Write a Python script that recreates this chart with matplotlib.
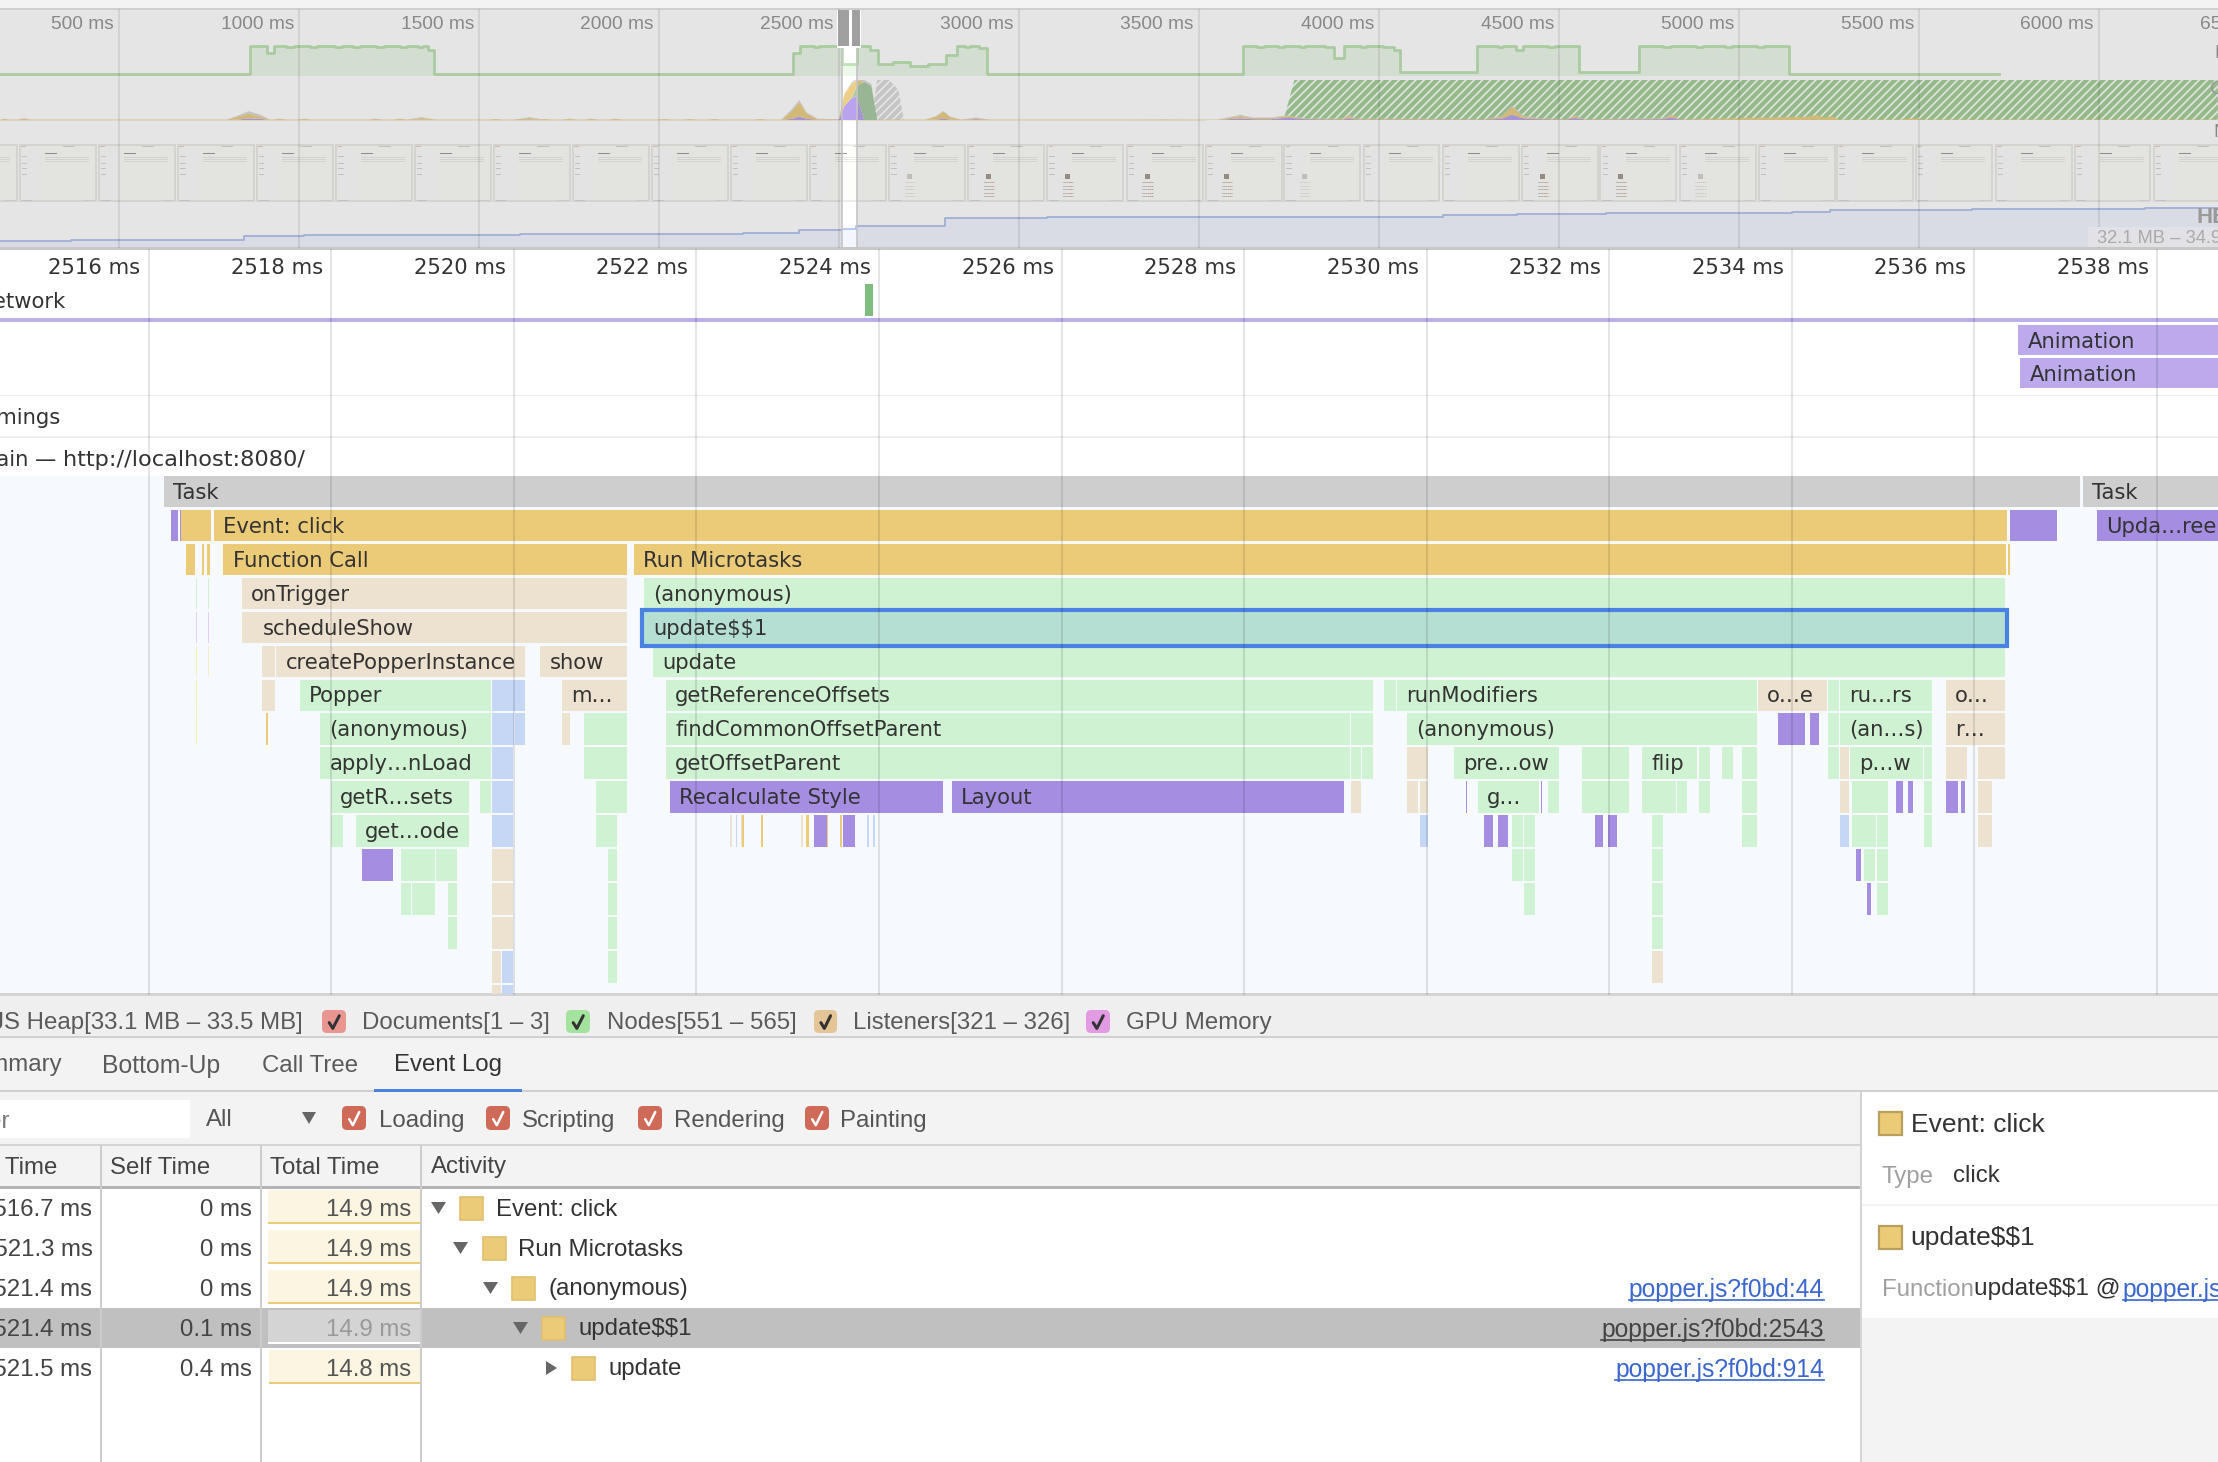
import matplotlib
matplotlib.use('Agg')
import matplotlib.pyplot as plt
from matplotlib.patches import Rectangle, FancyBboxPatch, Polygon

W, H = 2218, 1462
UI_FONT = 'Liberation Sans'
FLAME_FONT = 'DejaVu Sans'

# ---- overview data (ms) ----
over_ticks = [500, 1000, 1500, 2000, 2500, 3000, 3500, 4000, 4500, 5000, 5500, 6000, 6500]
window = [2507, 2549]

fps_t = [170, 863, 912, 930, 963, 985, 1030, 1050, 1100, 1120, 1150, 1170, 1215, 1235, 1280, 1300,
         1330, 1345, 1358, 1374, 2372, 2393, 2430, 2445, 2507, 2551, 2586, 2608, 2651, 2696, 2747,
         2798, 2829, 2850, 2865, 2890, 2910, 3623, 3660, 3680, 3720, 3735, 3780, 3795, 3850, 3875,
         3902, 3950, 3965, 4010, 4042, 4057, 4271, 4330, 4345, 4380, 4400, 4470, 4490, 4556, 4721,
         4790, 4810, 4880, 4900, 4960, 4980, 5050, 5070, 5140, 5722]
fps_v = [5, 60, 46, 60, 58, 60, 58, 60, 58, 60, 58, 60, 58, 60, 58, 60,
         58, 60, 52, 5, 47, 60, 58, 60, 24, 60, 53, 24, 28, 20, 24,
         42, 60, 58, 60, 56, 5, 60, 58, 60, 58, 60, 58, 60, 58, 36,
         60, 58, 60, 58, 53, 8, 60, 58, 60, 52, 60, 58, 60, 9, 60,
         58, 60, 58, 60, 58, 60, 58, 60, 5, 5]

cpu_t = [170, 800, 830, 860, 890, 920, 1300, 1340, 1380, 1600, 1640, 1680, 2340, 2370, 2390,
         2410, 2440, 2500, 2515, 2535, 2550, 2570, 2590, 2606, 2625, 2740, 2770, 2790, 2810, 2840,
         2880, 2920, 3550, 3615, 3650, 3700, 3745, 3790, 3900, 3915, 3935, 4290, 4340, 4370, 4400,
         4440, 4520, 4545, 4570, 4790, 4812, 4835, 5190, 5215, 5240, 5255, 5280, 5450, 5480, 5510, 6330]
cpu_rendering = [0, 0, 1, 4, 3, 0, 0, 1, 0, 0, 1, 0, 0, 3, 9,
                 3, 1, 1, 35, 55, 60, 0, 0, 0, 0, 0, 1, 3, 1, 0,
                 2, 0, 0, 4, 2, 2, 6, 2, 1, 4, 1, 1, 3, 13, 4,
                 2, 1, 5, 1, 2, 6, 1, 0, 1, 0, 0, 0, 0, 0, 0, 0]
cpu_painting = [0, 0, 0, 0, 0, 0, 0, 0, 0, 0, 0, 0, 0, 0, 0,
                0, 0, 0, 0, 0, 25, 95, 85, 0, 0, 0, 0, 0, 0, 0,
                0, 0, 0, 0, 0, 0, 0, 0, 0, 0, 0, 0, 0, 0, 0,
                0, 0, 0, 0, 0, 0, 0, 0, 0, 0, 0, 0, 0, 0, 0, 0]
cpu_scripting = [1, 1, 8, 12, 6, 1, 1, 4, 1, 1, 4, 1, 1, 20, 36,
                 14, 2, 1, 30, 35, 15, 0, 0, 0, 1, 1, 8, 18, 6, 1,
                 3, 1, 1, 6, 3, 3, 4, 2, 2, 6, 2, 1, 5, 20, 5,
                 2, 1, 5, 1, 2, 6, 1, 8, 12, 5, 10, 1, 1, 4, 1, 1]
cpu_other = [0, 0, 2, 6, 5, 0, 0, 2, 0, 0, 2, 0, 0, 5, 5,
             2, 0, 0, 0, 5, 5, 5, 5, 0, 0, 0, 1, 2, 1, 0,
             1, 0, 0, 3, 1, 1, 2, 1, 1, 3, 1, 0, 2, 3, 2,
             1, 0, 2, 0, 1, 3, 0, 0, 0, 0, 0, 0, 0, 0, 0, 0]
ripple_t = [170, 180, 195, 215, 235, 255, 925, 945, 965, 995, 1014, 1035, 1190, 1210, 1230, 1260, 1279, 1300,
            1524, 1544, 1564, 1593, 1613, 1633, 1662, 1682, 1702, 1731, 1751, 1771, 1790, 1810, 1830, 1858, 1878,
            1898, 1996, 2016, 2036, 2065, 2085, 2105, 2133, 2153, 2173, 2261, 2281, 2301, 3300, 3400, 3500, 3520]
ripple_v = [1, 5, 1, 1, 6, 1, 1, 5, 1, 1, 5, 1, 1, 5, 1, 1, 5, 1,
            1, 4, 1, 1, 4, 1, 1, 4, 1, 1, 5, 1, 1, 5, 1, 1, 5,
            1, 1, 4, 1, 1, 4, 1, 1, 4, 1, 1, 4, 1, 1, 2, 1, 1]
gpu_t = [3735, 3765, 6330]
gpu_v = [0, 100, 100]
gpu2_t = [2590, 2606, 2640, 2665, 2680]
gpu2_v = [0, 100, 100, 75, 0]

film_t = [5, 225, 444, 664, 883, 1103, 1322, 1541, 1761, 1980, 2200, 2419, 2639, 2858, 3078, 3299,
          3519, 3737, 3957, 4177, 4397, 4615, 4835, 5055, 5273, 5491, 5713, 5932, 6152]
film_kind = [0, 0, 0, 0, 0, 0, 0, 0, 0, 0, 0, 0, 1, 2, 2, 2, 2, 1, 0, 0, 2, 2, 1, 0, 0, 0, 0, 0, 0]

heap_t = [170, 366, 847, 1014, 1613, 2232, 2390, 2507, 2547, 2794, 3079, 3698, 4179, 4384, 4631, 5146, 5254,
          5647, 6128, 6330]
heap_mb = [32.50, 32.57, 32.85, 32.92, 33.0, 33.06, 33.28, 33.40, 33.6, 34.12, 34.19, 34.24, 34.33, 34.40,
           34.47, 34.54, 34.69, 34.76, 34.83, 34.83]

# ---- flame chart data: (depth, start ms, end ms) ----
flame_ticks = list(range(2516, 2540, 2))
span_task = [(0, 2516.17, 2537.16), (0, 2537.19, 2541.5)]
span_yellow = [(1, 2516.36, 2516.68), (1, 2516.72, 2536.36), (2, 2516.41, 2516.51), (2, 2516.59, 2516.61),
               (2, 2516.64, 2516.67), (2, 2516.82, 2521.24), (2, 2521.32, 2536.35), (2, 2536.37, 2536.39),
               (7, 2517.29, 2517.305), (10, 2522.50, 2522.52), (10, 2522.71, 2522.73),
               (10, 2523.20, 2523.23), (10, 2523.41, 2523.44), (10, 2523.57, 2523.6)]
span_tan = [(4, 2517.02, 2517.15), (3, 2517.02, 2521.24), (4, 2517.15, 2521.24), (5, 2517.24, 2517.38),
            (5, 2517.40, 2520.12), (5, 2520.29, 2521.24), (6, 2517.24, 2517.38), (6, 2520.53, 2521.24),
            (6, 2533.63, 2534.39), (6, 2535.69, 2536.34), (7, 2520.53, 2520.62), (7, 2535.69, 2536.34),
            (8, 2529.79, 2530.02), (8, 2534.53, 2534.63), (8, 2535.69, 2535.92), (8, 2536.04, 2536.34),
            (9, 2529.17, 2529.28), (9, 2529.79, 2529.91), (9, 2529.93, 2530.02), (9, 2534.53, 2534.63),
            (9, 2536.04, 2536.19), (10, 2536.04, 2536.19), (11, 2519.76, 2519.99), (12, 2519.76, 2519.99),
            (13, 2519.76, 2519.99), (14, 2519.76, 2519.86), (15, 2519.76, 2519.86), (14, 2532.47, 2532.59),
            (10, 2522.37, 2522.39), (10, 2522.49, 2522.50), (10, 2523.15, 2523.17), (10, 2523.37, 2523.39)]
span_green = [(3, 2521.43, 2536.34), (3, 2516.52, 2516.53), (3, 2516.65, 2516.66),
              (5, 2521.53, 2536.34), (6, 2517.66, 2519.75), (6, 2521.67, 2529.41), (6, 2529.53, 2529.66),
              (6, 2529.67, 2533.62), (6, 2534.40, 2534.52), (6, 2534.53, 2535.54),
              (7, 2517.88, 2519.75), (7, 2520.77, 2521.24), (7, 2521.67, 2529.16), (7, 2529.17, 2529.41),
              (7, 2529.79, 2533.62), (7, 2534.40, 2534.52), (7, 2534.53, 2535.54),
              (8, 2517.88, 2519.75), (8, 2520.77, 2521.24), (8, 2521.67, 2529.16), (8, 2529.17, 2529.28),
              (8, 2529.29, 2529.41), (8, 2530.30, 2531.45), (8, 2531.70, 2532.22), (8, 2532.36, 2532.96),
              (8, 2532.98, 2533.10), (8, 2533.23, 2533.36), (8, 2533.45, 2533.62), (8, 2534.40, 2534.52),
              (8, 2534.64, 2535.44), (8, 2535.45, 2535.54),
              (9, 2518.0, 2519.51), (9, 2519.63, 2519.75), (9, 2520.90, 2521.24), (9, 2530.56, 2531.23),
              (9, 2531.33, 2531.45), (9, 2531.70, 2531.97), (9, 2531.98, 2532.22), (9, 2532.36, 2532.73),
              (9, 2532.74, 2532.85), (9, 2532.98, 2533.10), (9, 2533.45, 2533.62), (9, 2534.66, 2535.05),
              (9, 2535.45, 2535.54),
              (10, 2518.0, 2518.13), (10, 2518.27, 2519.51), (10, 2520.90, 2521.13), (10, 2530.94, 2531.06),
              (10, 2531.07, 2531.19), (10, 2532.47, 2532.59), (10, 2533.45, 2533.62), (10, 2534.66, 2534.92),
              (10, 2534.93, 2535.05), (10, 2535.45, 2535.54),
              (11, 2518.77, 2519.14), (11, 2519.15, 2519.38), (11, 2521.03, 2521.13), (11, 2530.94, 2531.06),
              (11, 2531.07, 2531.19), (11, 2532.47, 2532.59), (11, 2534.79, 2534.91), (11, 2534.93, 2535.05),
              (12, 2518.77, 2518.87), (12, 2518.89, 2519.14), (12, 2519.28, 2519.38), (12, 2521.03, 2521.13),
              (12, 2531.07, 2531.19), (12, 2532.47, 2532.59), (12, 2534.93, 2535.05),
              (13, 2519.28, 2519.38), (13, 2521.03, 2521.13), (13, 2532.47, 2532.59), (14, 2521.03, 2521.13)]
span_purple = [(1, 2516.24, 2516.32), (1, 2516.34, 2516.36), (1, 2536.39, 2536.91), (1, 2537.34, 2541.5),
               (8, 2520.60, 2520.61), (9, 2521.71, 2524.70), (9, 2524.80, 2529.09), (9, 2530.43, 2530.44),
               (9, 2531.25, 2531.26), (9, 2535.14, 2535.22), (9, 2535.27, 2535.33), (9, 2535.69, 2535.82),
               (9, 2535.85, 2535.90), (7, 2533.85, 2534.14), (7, 2534.20, 2534.30),
               (10, 2523.29, 2523.43), (10, 2523.61, 2523.74), (10, 2530.63, 2530.73), (10, 2530.78, 2530.89),
               (10, 2531.84, 2531.93), (10, 2531.99, 2532.09), (11, 2518.34, 2518.68), (11, 2534.70, 2534.76),
               (12, 2534.82, 2534.87)]
span_blue = [(6, 2519.76, 2520.12), (7, 2519.76, 2520.0), (7, 2520.01, 2520.12), (8, 2519.76, 2519.99),
             (9, 2519.76, 2519.99), (10, 2519.76, 2519.99), (14, 2519.87, 2519.99), (15, 2519.87, 2519.99),
             (10, 2529.93, 2530.02), (10, 2534.53, 2534.63), (10, 2522.43, 2522.45), (10, 2523.87, 2523.89),
             (10, 2523.93, 2523.96)]
span_pale_pink = [(4, 2516.52, 2516.53), (4, 2516.65, 2516.66)]
span_pale_yellow = [(5, 2516.52, 2516.53), (5, 2516.65, 2516.66), (6, 2516.52, 2516.53), (7, 2516.52, 2516.53)]
selected_span = (4, 2521.41, 2536.36)
flame_labels = [(0, 2516.17, 'Task'), (0, 2537.19, 'Task'), (1, 2516.72, 'Event: click'), (1, 2537.34, 'Upda…ree'),
                (2, 2516.82, 'Function Call'), (2, 2521.32, 'Run Microtasks'), (3, 2517.02, 'onTrigger'),
                (3, 2521.43, '(anonymous)'), (4, 2517.15, 'scheduleShow'), (4, 2521.43, 'update$$1'),
                (5, 2517.40, 'createPopperInstance'), (5, 2520.29, 'show'), (5, 2521.53, 'update'),
                (6, 2517.66, 'Popper'), (6, 2520.53, 'm…'), (6, 2521.67, 'getReferenceOffsets'),
                (6, 2529.67, 'runModifiers'), (6, 2533.63, 'o…e'), (6, 2534.53, 'ru…rs'), (6, 2535.69, 'o…'),
                (7, 2517.88, '(anonymous)'), (7, 2521.67, 'findCommonOffsetParent'), (7, 2529.79, '(anonymous)'),
                (7, 2534.53, '(an…s)'), (7, 2535.69, 'r…'), (8, 2517.88, 'apply…nLoad'),
                (8, 2521.67, 'getOffsetParent'), (8, 2530.30, 'pre…ow'), (8, 2532.36, 'flip'), (8, 2534.64, 'p…w'),
                (9, 2518.0, 'getR…sets'), (9, 2521.71, 'Recalculate Style'), (9, 2524.80, 'Layout'), (9, 2530.56, 'g…'),
                (10, 2518.27, 'get…ode')]
anim_rows = [(0, 2536.48, 2541.5), (1, 2536.50, 2541.5)]
network_span = (2523.85, 2523.93)

# ---- event log table ----
log_start = ['2516.7 ms', '2521.3 ms', '2521.4 ms', '2521.4 ms', '2521.5 ms']
log_self = ['0 ms', '0 ms', '0 ms', '0.1 ms', '0.4 ms']
log_total = [14.9, 14.9, 14.9, 14.9, 14.8]
log_names = ['Event: click', 'Run Microtasks', '(anonymous)', 'update$$1', 'update']
log_links = ['', '', 'popper.js?f0bd:44', 'popper.js?f0bd:2543', 'popper.js?f0bd:914']
tab_names = ['Summary', 'Bottom-Up', 'Call Tree', 'Event Log']
filter_names = ['Loading', 'Scripting', 'Rendering', 'Painting']
legend_names = ['Documents[1 – 3]', 'Nodes[551 – 565]', 'Listeners[321 – 326]', 'GPU Memory']

YELLOW, TAN, GREEN = '#ebcb77', '#ede1cf', '#cff2d2'
PURPLE, BLUE, GREY = '#a58de2', '#c6d6f5', '#cecece'
ACCENT = '#4a82e3'
LINK = '#3b67cf'

plt.rcParams['hatch.linewidth'] = 3.0
fig = plt.figure(figsize=(W / 100, H / 100), dpi=100, facecolor='white')


def panel(x0, y0, x1, y1, z=1):
    ax = fig.add_axes([x0 / W, 1 - y1 / H, (x1 - x0) / W, (y1 - y0) / H], zorder=z)
    ax.axis('off')
    ax.patch.set_alpha(0)
    return ax


def ms_over(ms):
    return 0.36 * ms - 61


ui = panel(0, 0, W, H, z=0)
ui.set_xlim(0, W)
ui.set_ylim(H, 0)
top = panel(0, 0, W, H, z=5)
top.set_xlim(0, W)
top.set_ylim(H, 0)
OVER_XLIM = ((0 + 61) / 0.36, (W + 61) / 0.36)


def box(ax, x0, y0, x1, y1, color, z=1):
    ax.add_patch(Rectangle((x0, y0), x1 - x0, y1 - y0, facecolor=color, edgecolor='none', zorder=z))


def label(ax, x, y, s, size=17.3, color='#444444', ha='left', font=UI_FONT, z=6, **kw):
    return ax.text(x, y + 1.5, s, fontsize=size, color=color, ha=ha, va='center', family=font, zorder=z,
                   parse_math=False, **kw)


def checkbox(ax, x0, y0, x1, y1, color, tick='#333333', lw=2.2):
    ax.add_patch(FancyBboxPatch((x0 + 4, y0 + 4), x1 - x0 - 8, y1 - y0 - 8, boxstyle='round,pad=4,rounding_size=5',
                                facecolor=color, edgecolor='none', zorder=3))
    w, h = x1 - x0, y1 - y0
    ax.plot([x0 + w * .3, x0 + w * .45, x0 + w * .72], [y0 + h * .55, y0 + h * .8, y0 + h * .25],
            color=tick, lw=lw, zorder=4, solid_capstyle='round')


# window chrome
box(ui, 0, 0, W, 8, '#f3f3f3')
box(ui, 0, 8, W, 10, '#cfcfcf')
box(ui, 0, 10, W, 247, 'white')
box(ui, 0, 247, W, 250, '#c8c8c8')
box(ui, 0, 476, W, 994, '#f6f9fe')

# ---- overview tracks, all on the same ms scale ----
ax_fps = panel(0, 30, W, 76)
ax_fps.set_xlim(*OVER_XLIM)
ax_fps.set_ylim(0, 60 * 46 / 30)
ax_fps.fill_between(fps_t, fps_v, step='post', color='#edf7ea', lw=0)
ax_fps.step(fps_t, fps_v, where='post', color='#bde3b2', lw=2.0)

ax_cpu = panel(0, 80, W, 120)
ax_cpu.set_xlim(*OVER_XLIM)
ax_cpu.set_ylim(0, 100)
ax_cpu.fill_between(gpu_t, gpu_v, facecolor='#fbfdfa', hatch='////', edgecolor='#a4d098', lw=0)
ax_cpu.fill_between(gpu2_t, gpu2_v, facecolor='#ffffff', hatch='////', edgecolor='#dcdcdc', lw=0)
ax_cpu.fill_between(ripple_t, ripple_v, color='#ecd9a8', lw=0)
ax_cpu.stackplot(cpu_t, cpu_rendering, cpu_painting, cpu_scripting, cpu_other,
                 colors=['#b9a3ee', '#aacba4', '#eccf86', '#d9d9d9'], lw=0)

ax_net = panel(0, 132, W, 139)
ax_net.set_xlim(*OVER_XLIM)
ax_net.set_ylim(0, 1)
ax_net.barh(0.5, 2, left=2527, height=1, color='#b3c6ee')

ax_film = panel(0, 144, W, 202)
ax_film.set_xlim(*OVER_XLIM)
ax_film.set_ylim(1, 0)
FW = 211
for t, kind in zip(film_t, film_kind):
    ax_film.add_patch(Rectangle((t, 0.01), FW, 0.98, facecolor='#fdfdfa', edgecolor='#ecece8', lw=1.4))
    ax_film.add_patch(Rectangle((t + 5, 0.1), 50, 0.85, facecolor='#fcfdfc', edgecolor='none'))
    ax_film.plot([t + 4, t + 14], [0.04, 0.04], color='#e4c4bc', lw=0.6)
    ax_film.plot([t + 120, t + 150], [0.04, 0.04], color='#d0d0d0', lw=0.6)
    ax_film.plot([t + 70, t + 100], [0.15, 0.15], color='#999999', lw=0.7)
    for yy in [0.22, 0.25, 0.29]:
        ax_film.plot([t + 70, t + 190], [yy, yy], color='#e2e2e2', lw=0.5)
    for yy in [0.21, 0.32, 0.41, 0.51]:
        ax_film.plot([t + 6, t + 18], [yy, yy], color='#c4c4c4', lw=0.5)
    ax_film.plot([t + 5, t + 30], [0.96, 0.96], color='#cfcfcf', lw=0.5)
    ax_film.plot([t + 175, t + 205], [0.96, 0.96], color='#dddddd', lw=0.5)
    if kind:
        c = '#a59c8c' if kind == 2 else '#d8d4cc'
        ax_film.add_patch(Rectangle((t + 50, 0.52), 14, 0.09, facecolor=c, edgecolor='none'))
        for yy in [0.66, 0.72, 0.78, 0.84, 0.9]:
            ax_film.plot([t + 44, t + 72], [yy, yy], color=c, lw=0.7, ls=(0, (1, 1)))
            if kind == 2:
                ax_film.plot([t + 62, t + 72], [yy, yy], color='#e8b0a4', lw=0.7, ls=(0, (1, 1)))

ax_heap = panel(0, 135, W, 247)
ax_heap.set_xlim(*OVER_XLIM)
ax_heap.set_ylim(32.1, 32.1 + 112 / 14.18)
ax_heap.fill_between(heap_t, heap_mb, 32.1, step='post', color='#f3f6ff', lw=0)
ax_heap.step(heap_t, heap_mb, where='post', color='#b2c5ee', lw=1.3)

# dim everything outside the selected window
x_a, x_b = ms_over(window[0]), ms_over(window[1])
top.add_patch(Rectangle((0, 10), x_a, 237, facecolor='black', alpha=0.1, edgecolor='none', zorder=1))
top.add_patch(Rectangle((x_b, 10), W - x_b, 237, facecolor='black', alpha=0.1, edgecolor='none', zorder=1))
for tick in over_ticks:
    x = ms_over(tick)
    top.plot([x, x], [10, 247], color='black', alpha=0.08, lw=1.5, zorder=2)
    label(top, x - 5, 23, '%d ms' % tick, size=13.8, color='#888888', ha='right')
top.plot([x_a, x_a], [47, 247], color='#c4c4c4', lw=1.2, zorder=3)
top.plot([x_b, x_b], [47, 247], color='#c4c4c4', lw=1.2, zorder=3)
box(top, 837, 10, 861, 48, 'white', z=3)
box(top, 838, 10, 849, 46, '#a0a0a0', z=4)
box(top, 852, 10, 860, 46, '#a0a0a0', z=4)

label(top, 2214, 52, 'F', size=13.8, color='#888888')
label(top, 2210, 88, 'C', size=13.8, color='#999999')
label(top, 2213, 131, 'N', size=13.8, color='#888888')
label(top, 2197, 216, 'HE', size=16, color='#999999', weight='bold')
box(top, 2088, 227, W, 247, '#e2e2e6', z=3)
label(top, 2097, 237, '32.1 MB – 34.9 MB', size=13.2, color='#aaaaaa')

# ---- flame chart ruler and tracks ----
FLAME_XLIM = (2516 + (0 - 148.6) / 91.29, 2516 + (W - 148.6) / 91.29)
ROW = 33.95
ax_flame = panel(0, 475.8, W, 994)
ax_flame.set_xlim(*FLAME_XLIM)
ax_flame.set_ylim((994 - 475.8) / ROW, 0)


def draw_spans(spans, color):
    for depth, start, end in spans:
        ax_flame.barh(depth, end - start, left=start, height=0.93, align='edge', color=color, lw=0)


draw_spans(span_task, GREY)
draw_spans(span_green, GREEN)
draw_spans(span_tan, TAN)
draw_spans(span_yellow, YELLOW)
draw_spans(span_purple, PURPLE)
draw_spans(span_blue, BLUE)
draw_spans(span_pale_pink, '#e6cdf2')
draw_spans(span_pale_yellow, '#f5ecc8')
depth, start, end = selected_span
ax_flame.barh(depth + 0.495, end - start, left=start, height=1.06, facecolor='#b5dfd3', edgecolor=ACCENT, lw=3.0)
for depth, start, text in flame_labels:
    ax_flame.text(start + 0.1, depth + 0.5, text, fontsize=15.2, color='#333333', family=FLAME_FONT,
                  ha='left', va='center', parse_math=False, clip_on=True)

ax_anim = panel(0, 325, W, 391)
ax_anim.set_xlim(*FLAME_XLIM)
ax_anim.set_ylim(2, 0)
for row, start, end in anim_rows:
    ax_anim.barh(row, end - start, left=start, height=0.92, align='edge', color='#bcaaec', lw=0)
    ax_anim.text(start + 0.107, row + 0.5 + row * 0.03, 'Animation', fontsize=15.2, color='#333333',
                 family=FLAME_FONT, ha='left', va='center', clip_on=True)

ax_net2 = panel(0, 284, W, 316)
ax_net2.set_xlim(*FLAME_XLIM)
ax_net2.set_ylim(0, 1)
ax_net2.barh(0.5, network_span[1] - network_span[0], left=network_span[0], height=1, color='#7fbd80', lw=0)

box(ui, 0, 318, W, 321.5, '#bdaeee')
box(ui, 0, 394.5, W, 396, '#eeeeee')
box(ui, 0, 436, W, 437.5, '#eeeeee')
label(ui, -22, 300.4, 'Network', size=15.2, color='#333333', font=FLAME_FONT)
label(ui, -22, 416.4, 'Timings', size=15.2, color='#333333', font=FLAME_FONT)
label(ui, -22, 458, 'Main —', size=15.2, color='#333333', font=FLAME_FONT)
label(ui, 63, 458, 'http://localhost:8080/', size=16.2, color='#333333', font=FLAME_FONT)

for tick in flame_ticks:
    x = 148.6 + (tick - 2516) * 91.29
    top.plot([x, x], [250, 994], color='black', alpha=0.1, lw=1.5, zorder=2)
    label(top, x - 8, 266.4, '%d ms' % tick, size=15.2, color='#333333', ha='right', font=FLAME_FONT)

# ---- bottom panes ----
box(ui, 0, 994, W, 1036, '#efefef')
box(ui, 0, 993, W, 996, '#d4d4d4')
box(ui, 0, 1036, W, 1038, '#d0d0d0')
box(ui, 0, 1038, W, 1090, '#f3f3f3')
box(ui, 0, 1090, W, 1092, '#d0d0d0')
box(ui, 0, 1092, W, 1144, '#f3f3f3')
box(ui, 0, 1144, W, 1146, '#d4d4d4')
box(ui, 0, 1146, W, 1186, '#f3f3f3')
box(ui, 0, 1186, W, 1188.5, '#b4b4b4')
box(ui, 0, 1188.5, W, H, 'white')

# memory legend
label(ui, 303, 1022, 'JS Heap[33.1 MB – 33.5 MB]', color='#5a5a5a', ha='right')
legend_boxes = [(322, 346), (566, 590), (814, 837), (1086, 1110)]
legend_colors = ['#e8968f', '#a4e39d', '#e3c596', '#e29be2']
legend_x = [362, 607, 853, 1126]
for (x0, x1), c, tx, name in zip(legend_boxes, legend_colors, legend_x, legend_names):
    checkbox(ui, x0, 1010, x1, 1033, c)
    label(ui, tx, 1022, name, color='#5a5a5a')

# tabs
for tx, name, c in zip([-40, 102, 261.5, 393.5], tab_names, ['#5a5a5a', '#5a5a5a', '#5a5a5a', '#333333']):
    label(ui, tx, 1064, name, color=c, size=17.8 if name == 'Bottom-Up' else 17.3)
box(ui, 374, 1089, 522, 1092, ACCENT, z=2)

# filter bar
box(ui, 0, 1100, 190, 1138, 'white', z=2)
label(ui, -44, 1120, 'Filter', color='#777777')
label(ui, 206, 1119, 'All', color='#555555')
ui.add_patch(Polygon([(302, 1112), (316, 1112), (309, 1124)], facecolor='#666666', edgecolor='none', zorder=3))
for x0, tx, name in zip([342, 486, 638, 805], [379, 522, 673.5, 840.5], filter_names):
    checkbox(ui, x0, 1106, x0 + 24, 1130, '#cf6a58', tick='white', lw=1.8)
    label(ui, tx, 1119, name, color='#555555')

# table
box(ui, 0, 1308, 1861, 1348, '#c0c0c0', z=1.5)
for x in [100.8, 260.8, 421]:
    box(ui, x - 1, 1146, x + 1, H, '#cccccc', z=2)
for x, name in zip([-52, 110, 270, 430.5], ['Start Time', 'Self Time', 'Total Time', 'Activity']):
    label(ui, x, 1166, name, color='#444444')

arrow_x = [431, 453, 483, 513, 546]
square_x = [460, 483, 512, 542, 572]
text_x = [496, 518, 548.5, 578, 608]
for i in range(5):
    y = 1208 + i * 40
    sel = i == 3
    label(ui, 92.5, y, log_start[i], ha='right', color='#444444')
    label(ui, 252, y, log_self[i], ha='right', color='#444444')
    width = log_total[i] / 14.9 * 151.6
    box(ui, 419.6 - width, y - 18, 419.6, y + 14, '#d4d4d4' if sel else '#fbf5e2', z=2)
    box(ui, 419.6 - width, y + 14, 419.6, y + 16, 'white' if sel else YELLOW, z=2)
    label(ui, 411, y, '%.1f ms' % log_total[i], ha='right', color='#999999' if sel else '#555555')
    ax_ = arrow_x[i]
    if i < 4:
        ui.add_patch(Polygon([(ax_, y - 6), (ax_ + 15, y - 6), (ax_ + 7.5, y + 6)], facecolor='#666666', edgecolor='none', zorder=3))
    else:
        ui.add_patch(Polygon([(ax_, y - 7), (ax_ + 11, y), (ax_, y + 7)], facecolor='#666666', edgecolor='none', zorder=3))
    ui.add_patch(Rectangle((square_x[i], y - 11.5), 23, 23, facecolor=YELLOW, edgecolor='#dfc070', lw=1.2, zorder=3))
    label(ui, text_x[i], y, log_names[i], color='#333333')


def link(x, y, s, ha='right', color=LINK):
    t = label(ui, x, y, s, color=color, ha=ha, size=17.7)
    ext = t.get_window_extent(fig.canvas.get_renderer())
    ui.plot([ext.x0, ext.x1], [y + 12, y + 12], color=color, lw=1.2, zorder=6)


for i, s in enumerate(log_links):
    if s:
        link(1824, 1208 + i * 40, s, color='#444444' if i == 3 else LINK)

# details pane
box(ui, 1860, 1092, W, H, '#f3f3f3', z=2)
box(ui, 1860, 1092, 1862, H, '#d4d4d4', z=3)
box(ui, 1862, 1092, W, 1204, 'white', z=2.5)
box(ui, 1862, 1206, W, 1318, 'white', z=2.5)
for y0, name in zip([1112, 1226], ['Event: click', 'update$$1']):
    ui.add_patch(Rectangle((1879, y0), 23, 23, facecolor='#eccb76', edgecolor='#b89f5c', lw=1.6, zorder=3))
    label(ui, 1910.7, y0 + 11, name, color='#333333', size=19)
label(ui, 1882, 1175, 'Type', color='#a0a0a0')
label(ui, 1952.6, 1175, 'click', color='#333333')
label(ui, 1882, 1288, 'Function', color='#a0a0a0')
label(ui, 1974, 1288, 'update$$1 @', color='#333333', size=17.6)
link(2122.8, 1288, 'popper.js?f0bd:2543', ha='left')

fig.savefig('out.png', dpi=100, facecolor='white')
